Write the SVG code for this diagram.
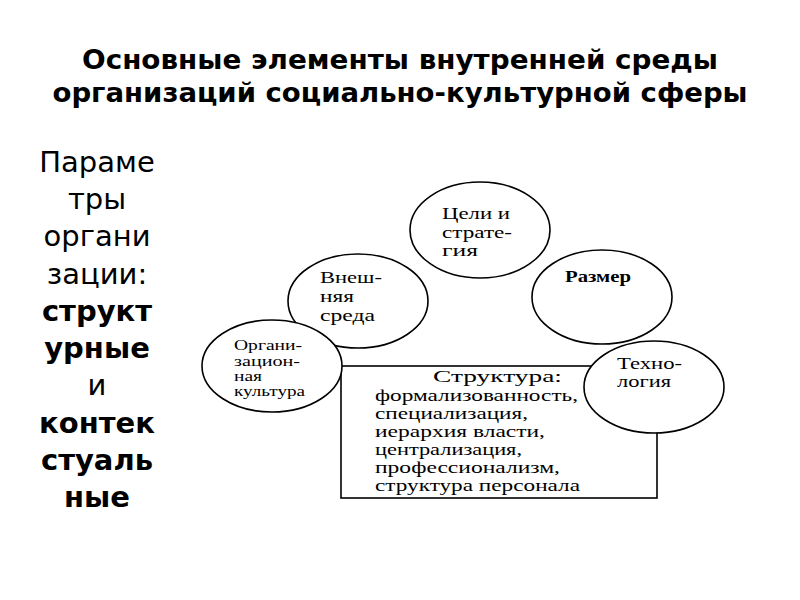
<svg xmlns="http://www.w3.org/2000/svg" width="800" height="600" viewBox="0 0 800 600">
<style>
.title{font-family:"DejaVu Sans Condensed","DejaVu Sans",sans-serif;font-weight:bold;font-size:26px;fill:#000;text-anchor:middle}
.side{font-family:"DejaVu Sans",sans-serif;font-size:29px;fill:#000;text-anchor:middle}
.b{font-weight:bold}
.n{font-family:"Liberation Serif",serif;font-size:17px;fill:#000}
.s{font-size:16px}
.c{font-size:14px}
.ell{fill:#fff;stroke:#000;stroke-width:1.6}
.box{fill:none;stroke:#000;stroke-width:1.6}
</style>
<rect width="800" height="600" fill="#fff"/>
<g id="title">
<text class="title" x="400" y="69" textLength="636" lengthAdjust="spacingAndGlyphs">Основные элементы внутренней среды</text>
<text class="title" x="400" y="102" textLength="695" lengthAdjust="spacingAndGlyphs">организаций социально-культурной сферы</text>
</g>
<g id="side">
<text class="side" x="97" y="172">Параме</text>
<text class="side" x="97" y="209">тры</text>
<text class="side" x="97" y="246">органи</text>
<text class="side" x="97" y="284">зации:</text>
<text class="side b" x="97" y="321">структ</text>
<text class="side b" x="97" y="358">урные</text>
<text class="side" x="97" y="395">и</text>
<text class="side b" x="97" y="433">контек</text>
<text class="side b" x="97" y="470">стуаль</text>
<text class="side b" x="97" y="507">ные</text>
</g>
<g id="structure">
<rect class="box" x="341" y="366" width="316" height="132"/>
<text class="n" x="433" y="382" textLength="129" lengthAdjust="spacingAndGlyphs">Структура:</text>
<text class="n s" x="375" y="401" textLength="203" lengthAdjust="spacingAndGlyphs">формализованность,</text>
<text class="n s" x="375" y="419" textLength="153" lengthAdjust="spacingAndGlyphs">специализация,</text>
<text class="n s" x="375" y="437" textLength="170" lengthAdjust="spacingAndGlyphs">иерархия власти,</text>
<text class="n s" x="375" y="455" textLength="147" lengthAdjust="spacingAndGlyphs">централизация,</text>
<text class="n s" x="375" y="473" textLength="185" lengthAdjust="spacingAndGlyphs">профессионализм,</text>
<text class="n s" x="375" y="491" textLength="205" lengthAdjust="spacingAndGlyphs">структура персонала</text>
</g>
<g id="goals">
<ellipse class="ell" cx="480" cy="230" rx="70" ry="48"/>
<text class="n" x="442" y="219" textLength="68" lengthAdjust="spacingAndGlyphs">Цели и</text>
<text class="n" x="442" y="238" textLength="70" lengthAdjust="spacingAndGlyphs">страте-</text>
<text class="n" x="442" y="256" textLength="36" lengthAdjust="spacingAndGlyphs">гия</text>
</g>
<g id="external">
<ellipse class="ell" cx="358" cy="301" rx="70" ry="47"/>
<text class="n" x="320" y="283" textLength="62" lengthAdjust="spacingAndGlyphs">Внеш-</text>
<text class="n" x="320" y="302" textLength="34" lengthAdjust="spacingAndGlyphs">няя</text>
<text class="n" x="320" y="321" textLength="55" lengthAdjust="spacingAndGlyphs">среда</text>
</g>
<g id="size">
<ellipse class="ell" cx="602" cy="297" rx="70" ry="47"/>
<text class="n" x="565" y="282" font-weight="bold" textLength="66" lengthAdjust="spacingAndGlyphs">Размер</text>
</g>
<g id="culture">
<ellipse class="ell" cx="272" cy="366" rx="70" ry="46"/>
<text class="n c" x="234" y="350" textLength="68" lengthAdjust="spacingAndGlyphs">Органи-</text>
<text class="n c" x="234" y="366" textLength="66" lengthAdjust="spacingAndGlyphs">зацион-</text>
<text class="n c" x="234" y="381" textLength="28" lengthAdjust="spacingAndGlyphs">ная</text>
<text class="n c" x="234" y="396" textLength="71" lengthAdjust="spacingAndGlyphs">культура</text>
</g>
<g id="technology">
<ellipse class="ell" cx="654" cy="387" rx="70" ry="46"/>
<text class="n" x="617" y="369" textLength="65" lengthAdjust="spacingAndGlyphs">Техно-</text>
<text class="n" x="617" y="387" textLength="54" lengthAdjust="spacingAndGlyphs">логия</text>
</g>
<g id="connectors"></g>
</svg>
